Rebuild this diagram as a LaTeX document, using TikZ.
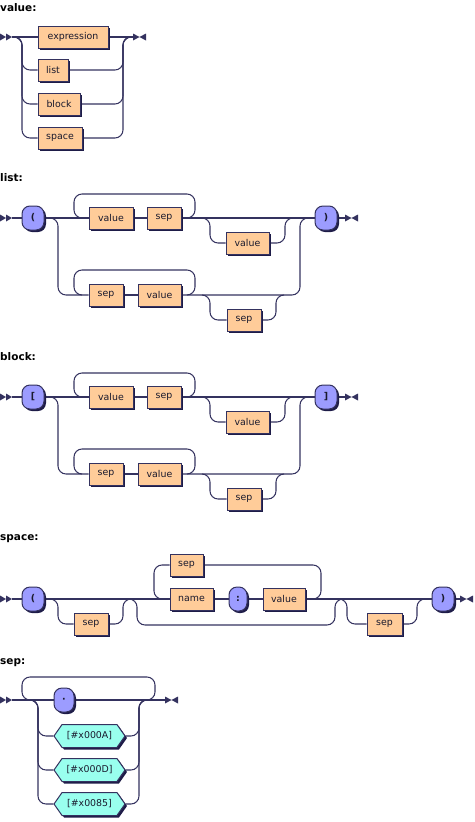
\documentclass[tikz,border=0pt]{standalone}
\usepackage{fontspec}
\setmainfont{DejaVu Sans}
\usetikzlibrary{shapes.symbols,shadows,backgrounds}
\definecolor{linec}{HTML}{34325F}
\definecolor{shadowc}{HTML}{1E1C48}
\definecolor{ntfill}{HTML}{FFCC99}
\definecolor{tfill}{HTML}{9C9CFF}
\definecolor{hfill}{HTML}{99FFEE}
\definecolor{txt}{HTML}{1A1A2E}
\tikzset{
 box/.style={draw=linec, line width=1pt, inner sep=0pt, minimum height=22pt, text=txt,
   font=\fontsize{9.4}{11}\selectfont,
   general shadow={fill=shadowc, shadow xshift=2pt, shadow yshift=-2pt}},
 nt/.style={box, rectangle, fill=ntfill},
 term/.style={box, rectangle, rounded corners=8pt, fill=tfill, minimum height=24pt,
   font=\fontsize{9.4}{11}\selectfont\bfseries},
 hex/.style={box, signal, signal to=east and west, signal pointer angle=110, fill=hfill, minimum height=23pt},
 rail/.style={draw=linec, line width=1.05pt, rounded corners=8pt},
 title/.style={anchor=base west, inner sep=0pt, font=\fontsize{10.5}{12}\selectfont\bfseries, text=black},
 startmark/.pic={\fill[linec] (0,-3.5) -- (6,0) -- (0,3.5) -- cycle (6,-3.5) -- (12,0) -- (6,3.5) -- cycle;},
 endmark/.pic={\fill[linec] (0,-3.5) -- (6.5,0) -- (0,3.5) -- cycle (13,-3.5) -- (6.5,0) -- (13,3.5) -- cycle;}
}
\newcommand\seqgroup[5]{%
\begin{scope}[shift={(0,#2)}]
 \node[title] (#1t) at (0,181) {#3};
 \pic at (0,218) {startmark}; \coordinate (#1s) at (12,218);
 \node[term, minimum width=22pt] (#1lp) at (33,218) {#4};
 \node[nt, minimum width=44pt] (#1v1) at (111,218) {value};
 \node[nt, minimum width=34pt] (#1s1) at (164,218) {sep};
 \node[nt, minimum width=43pt] (#1v2) at (247.5,243) {value};
 \node[nt, minimum width=34pt] (#1s2) at (106,295) {sep};
 \node[nt, minimum width=43pt] (#1v3) at (159.5,295) {value};
 \node[nt, minimum width=34pt] (#1s3) at (244,320) {sep};
 \node[term, minimum width=22pt] (#1rp) at (326,218) {#5};
 \coordinate (#1e) at (345,218); \pic at (#1e) {endmark};
 \begin{scope}[on background layer]
  \draw[rail] (#1s) -- (#1lp.west);
  \draw[rail] (#1lp.east) -- (#1v1.west);
  \draw[rail] (#1v1.east) -- (#1s1.west);
  \draw[rail] (#1s1.east) -- (#1rp.west);
  \draw[rail] (#1rp.east) -- (#1e);
  \draw[rail] (187,218) -- (195,218) -- (195,194) -- (74,194) -- (74,218) -- (82,218);
  \draw[rail] (202,218) -- (210,218) -- (210,243) -- (#1v2.west);
  \draw[rail] (#1v2.east) -- (285,243) -- (285,218) -- (293,218);
  \draw[rail] (50,218) -- (58,218) -- (58,295) -- (#1s2.west);
  \draw[rail] (#1s2.east) -- (#1v3.west);
  \draw[rail] (#1v3.east) -- (300,295) -- (300,218) -- (308,218);
  \draw[rail] (187,295) -- (195,295) -- (195,270) -- (74,270) -- (74,295) -- (82,295);
  \draw[rail] (202,295) -- (210,295) -- (210,320) -- (#1s3.west);
  \draw[rail] (#1s3.east) -- (276,320) -- (276,295) -- (284,295);
 \end{scope}
\end{scope}}
\begin{document}
\begin{tikzpicture}[x=1pt,y=-1pt]
\useasboundingbox (0,0) rectangle (474,822);
% ---------- value ----------
\node[title] (tv) at (0,11.5) {value:};
\pic at (0,37) {startmark}; \coordinate (vs) at (12,37);
\node[nt, minimum width=70pt] (vexp) at (73,37) {expression};
\node[nt, minimum width=30pt] (vlist) at (53,70) {list};
\node[nt, minimum width=42pt] (vblock) at (59,104) {block};
\node[nt, minimum width=44pt] (vspace) at (60,138) {space};
\coordinate (ve) at (133,37); \pic at (ve) {endmark};
\coordinate (vL) at (14,37); \coordinate (vR) at (131,37);
\begin{scope}[on background layer]
 \draw[rail] (vs) -- (vexp.west);
 \draw[rail] (vexp.east) -- (ve);
 \foreach \n/\y in {vlist/70, vblock/104, vspace/138} {
  \draw[rail] (vL) -- (22,37) -- (22,\y) -- (\n.west);
  \draw[rail] (\n.east) -- (123,\y) -- (123,37) -- (vR);
 }
\end{scope}
% ---------- list / block ----------
\seqgroup{l}{0}{list:}{(}{)}
\seqgroup{b}{179}{block:}{[}{]}
% ---------- space ----------
\node[title] (ts) at (0,540) {space:};
\pic at (0,599) {startmark}; \coordinate (ss) at (12,599);
\node[term, minimum width=22pt] (slp) at (33,599) {(};
\node[nt, minimum width=34pt] (ssA) at (91,624) {sep};
\node[nt, minimum width=33pt] (ssT) at (186.5,565) {sep};
\node[nt, minimum width=43pt] (sname) at (191.5,599) {name};
\node[term, minimum width=18pt] (scol) at (238,599) {:};
\node[nt, minimum width=42pt] (sval) at (284,599) {value};
\node[nt, minimum width=35pt] (ssC) at (384.5,624) {sep};
\node[term, minimum width=22pt] (srp) at (443,599) {)};
\coordinate (se) at (460,599); \pic at (se) {endmark};
\begin{scope}[on background layer]
 \draw[rail] (ss) -- (slp.west);
 \draw[rail] (slp.east) -- (sname.west);
 \draw[rail] (sname.east) -- (scol.west);
 \draw[rail] (scol.east) -- (sval.west);
 \draw[rail] (sval.east) -- (srp.west);
 \draw[rail] (srp.east) -- (se);
 \draw[rail] (50,599) -- (58,599) -- (58,624) -- (ssA.west);
 \draw[rail] (ssA.east) -- (123,624) -- (123,599) -- (131,599);
 \draw[rail] (129,599) -- (137,599) -- (137,625) -- (335,625) -- (335,599) -- (343,599);
 \draw[rail] (313,599) -- (321,599) -- (321,565) -- (ssT.east);
 \draw[rail] (ssT.west) -- (154,565) -- (154,599) -- (162,599);
 \draw[rail] (339,599) -- (347,599) -- (347,624) -- (ssC.west);
 \draw[rail] (ssC.east) -- (417,624) -- (417,599) -- (425,599);
\end{scope}
% ---------- sep ----------
\node[title] (tp) at (0,664) {sep:};
\pic at (0,700) {startmark}; \coordinate (ps) at (12,700);
\node[term, minimum width=20pt] (psp) at (64,700) {∙};
\node[hex, minimum width=71pt] (pA) at (89.5,736) {[\#x000A]};
\node[hex, minimum width=71pt] (pD) at (89.5,770) {[\#x000D]};
\node[hex, minimum width=71pt] (pN) at (89.5,804) {[\#x0085]};
\coordinate (pe) at (165,700); \pic at (pe) {endmark};
\begin{scope}[on background layer]
 \draw[rail] (ps) -- (psp.west);
 \draw[rail] (psp.east) -- (pe);
 \draw[rail] (147,700) -- (155,700) -- (155,677) -- (22,677) -- (22,700) -- (30,700);
 \foreach \n/\y in {pA/736, pD/770, pN/804} {
  \draw[rail] (30,700) -- (38,700) -- (38,\y) -- (\n.west);
  \draw[rail] (\n.east) -- (139,\y) -- (139,700) -- (147,700);
 }
\end{scope}
\end{tikzpicture}
\end{document}
